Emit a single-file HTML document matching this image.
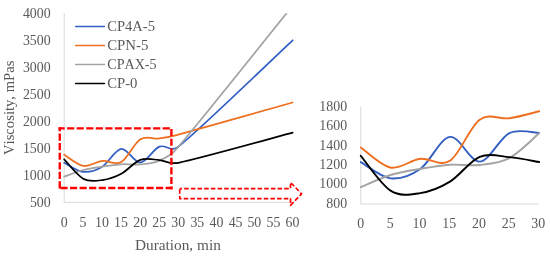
<!DOCTYPE html>
<html><head><meta charset="utf-8"><title>Viscosity chart</title>
<style>html,body{margin:0;padding:0;background:#fff}svg{display:block}</style></head>
<body>
<svg width="550" height="256" viewBox="0 0 550 256">
<rect width="550" height="256" fill="#fff"/>
<defs><clipPath id="cl"><rect x="60" y="13.20" width="240" height="195"/></clipPath></defs>
<g stroke="#D9D9D9" stroke-width="1" fill="none">
<path d="M64.20,13.20V202.30H292.8"/>
<path d="M360.80,106.50V204.00H539.2"/>
</g>
<g fill="none" stroke-width="1.75" stroke-linecap="round" stroke-linejoin="round" clip-path="url(#cl)">
<path stroke="#335FC4" d="M64.20,162.83 C67.37,164.33 76.89,171.21 83.23,171.84 C89.58,172.48 95.93,170.49 102.27,166.66 C108.62,162.83 114.96,149.52 121.31,148.84 C127.65,148.16 134.00,162.92 140.34,162.56 C146.69,162.20 153.03,149.33 159.38,146.68 C165.72,144.03 170.97,152.62 178.41,146.68 C200.62,128.95 273.58,58.03 292.62,40.30"/>
<path stroke="#EE6F1F" d="M64.20,154.67 C67.37,156.54 76.89,164.80 83.23,165.85 C89.58,166.90 95.93,161.62 102.27,160.99 C108.62,160.36 114.96,165.69 121.31,162.07 C127.65,158.45 134.00,143.22 140.34,139.28 C146.69,135.35 153.03,139.25 159.38,138.47 C165.72,137.69 169.03,137.12 178.41,134.58 C200.62,128.59 273.58,107.85 292.62,102.51"/>
<path stroke="#A3A3A3" d="M64.20,176.76 C67.37,175.63 76.89,171.70 83.23,170.01 C89.58,168.32 95.93,167.56 102.27,166.61 C108.62,165.65 114.96,164.64 121.31,164.28 C127.65,163.92 134.00,165.06 140.34,164.45 C146.69,163.83 153.03,163.55 159.38,160.61 C165.72,157.68 170.75,155.75 178.41,146.84 C200.62,121.03 273.58,29.26 292.62,5.74"/>
<path stroke="#000000" d="M64.20,159.32 C67.37,162.54 76.89,175.19 83.23,178.65 C89.58,182.10 95.93,180.88 102.27,180.05 C108.62,179.22 114.96,177.04 121.31,173.68 C127.65,170.32 134.00,162.18 140.34,159.91 C146.69,157.64 153.03,159.59 159.38,160.07 C165.72,160.55 168.99,164.71 178.41,162.77 C200.62,158.20 273.58,137.66 292.62,132.64"/>
</g>
<g fill="none" stroke-width="1.9" stroke-linecap="round" stroke-linejoin="round">
<path stroke="#335FC4" d="M360.80,162.11 C365.75,164.81 380.62,177.19 390.53,178.34 C400.43,179.49 410.34,175.91 420.25,169.01 C430.16,162.11 440.07,138.16 449.98,136.93 C459.88,135.70 469.79,162.27 479.70,161.62 C489.61,160.97 499.52,137.81 509.43,133.04 C519.33,128.28 534.20,133.04 539.15,133.04"/>
<path stroke="#EE6F1F" d="M360.80,147.43 C365.75,150.78 380.62,165.65 390.53,167.55 C400.43,169.45 410.34,159.94 420.25,158.80 C430.16,157.67 440.07,167.26 449.98,160.75 C459.88,154.23 469.79,126.81 479.70,119.73 C489.61,112.65 499.52,119.68 509.43,118.27 C519.33,116.86 534.20,112.44 539.15,111.27"/>
<path stroke="#A3A3A3" d="M360.80,187.18 C365.75,185.16 380.62,178.08 390.53,175.03 C400.43,171.99 410.34,170.63 420.25,168.91 C430.16,167.19 440.07,165.38 449.98,164.73 C459.88,164.08 469.79,166.12 479.70,165.02 C489.61,163.92 499.52,163.40 509.43,158.12 C519.33,152.84 534.20,137.47 539.15,133.34"/>
<path stroke="#000000" d="M360.80,155.79 C365.75,161.59 380.62,184.37 390.53,190.59 C400.43,196.81 410.34,194.60 420.25,193.11 C430.16,191.62 440.07,187.69 449.98,181.64 C459.88,175.60 469.79,160.94 479.70,156.86 C489.61,152.78 499.52,156.29 509.43,157.15 C519.33,158.01 534.20,161.20 539.15,162.01"/>
</g>
<g fill="none" stroke-width="1.6" stroke-linecap="round">
<path stroke="#335FC4" d="M75.7,26.45H104.4"/>
<path stroke="#EE6F1F" d="M75.7,45.45H104.4"/>
<path stroke="#A3A3A3" d="M75.7,64.45H104.4"/>
<path stroke="#000000" d="M75.7,83.45H104.4"/>
</g>
<g font-family="'Liberation Serif', serif" font-size="15.4" fill="#595959" style="font-kerning:none">
<text transform="translate(107.20,30.80) scale(0.9461,1)">CP4A-5</text>
<text transform="translate(107.19,49.80) scale(0.9650,1)">CPN-5</text>
<text transform="translate(107.22,68.90) scale(0.9170,1)">CPAX-5</text>
<text transform="translate(107.20,87.70) scale(0.9558,1)">CP-0</text>
<text transform="translate(29.88,206.70) scale(0.9026,1)">500</text>
<text transform="translate(22.93,179.80) scale(0.9026,1)">1000</text>
<text transform="translate(22.93,152.90) scale(0.9026,1)">1500</text>
<text transform="translate(22.93,126.00) scale(0.9026,1)">2000</text>
<text transform="translate(22.93,99.10) scale(0.9026,1)">2500</text>
<text transform="translate(22.93,72.20) scale(0.9026,1)">3000</text>
<text transform="translate(22.93,45.30) scale(0.9026,1)">3500</text>
<text transform="translate(22.93,18.40) scale(0.9026,1)">4000</text>
<text transform="translate(60.72,226.90) scale(0.9026,1)">0</text>
<text transform="translate(79.62,226.90) scale(0.9026,1)">5</text>
<text transform="translate(94.96,226.90) scale(0.9026,1)">10</text>
<text transform="translate(114.00,226.90) scale(0.9026,1)">15</text>
<text transform="translate(133.33,226.90) scale(0.9026,1)">20</text>
<text transform="translate(152.37,226.90) scale(0.9026,1)">25</text>
<text transform="translate(171.36,226.90) scale(0.9026,1)">30</text>
<text transform="translate(190.40,226.90) scale(0.9026,1)">35</text>
<text transform="translate(209.62,226.90) scale(0.9026,1)">40</text>
<text transform="translate(228.66,226.90) scale(0.9026,1)">45</text>
<text transform="translate(247.41,226.90) scale(0.9026,1)">50</text>
<text transform="translate(266.45,226.90) scale(0.9026,1)">55</text>
<text transform="translate(285.58,226.90) scale(0.9026,1)">60</text>
<text transform="translate(326.28,207.90) scale(0.9026,1)">800</text>
<text transform="translate(319.33,188.48) scale(0.9026,1)">1000</text>
<text transform="translate(319.33,169.06) scale(0.9026,1)">1200</text>
<text transform="translate(319.33,149.64) scale(0.9026,1)">1400</text>
<text transform="translate(319.33,130.22) scale(0.9026,1)">1600</text>
<text transform="translate(319.33,110.80) scale(0.9026,1)">1800</text>
<text transform="translate(357.22,227.80) scale(0.9026,1)">0</text>
<text transform="translate(386.69,227.80) scale(0.9026,1)">5</text>
<text transform="translate(412.60,227.80) scale(0.9026,1)">10</text>
<text transform="translate(442.21,227.80) scale(0.9026,1)">15</text>
<text transform="translate(472.11,227.80) scale(0.9026,1)">20</text>
<text transform="translate(501.72,227.80) scale(0.9026,1)">25</text>
<text transform="translate(531.28,227.80) scale(0.9026,1)">30</text>
<text transform="translate(134.96,249.70) scale(0.9939,1)">Duration, min</text>
<text transform="translate(14.3,154.8) rotate(-90) translate(-0.16,0) scale(0.9511,1)">Viscosity, mPas</text>
</g>
<g fill="none" stroke="#FF0000" stroke-width="2.39" stroke-dasharray="7.17 2.39">
<path d="M58.55,128.4H170.2" stroke-dashoffset="1.02"/>
<path d="M171.4,129.1V189.2"/>
<path d="M60.45,188H172.6"/>
<path d="M59.75,127.2V189.2" stroke-dashoffset="3.2"/>
</g>
<path d="M179.7,188.65H290.5V182.4L301.6,193.85L290.5,205.3V198.55H179.7Z" fill="none" stroke="#FF0000" stroke-width="1.667" stroke-dasharray="4.55 2.12" stroke-dashoffset="2.20" stroke-linejoin="round"/>
</svg>
</body></html>
